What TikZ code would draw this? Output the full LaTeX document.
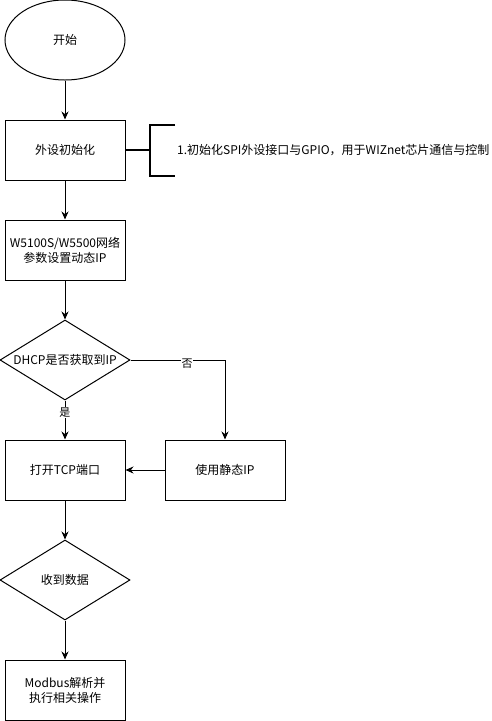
\documentclass[tikz,border=0pt]{standalone}
\usepackage{fontspec}
\setmainfont{Noto Sans CJK SC}
\usepackage{tikz}
\usetikzlibrary{shapes,arrows.meta,positioning}

\begin{document}
\begin{tikzpicture}[
  x=1pt, y=-1pt,
  every node/.style={font=\fontsize{12pt}{15pt}\selectfont},
  startnode/.style={ellipse, draw, line width=1pt, minimum width=120pt, minimum height=80pt, inner sep=0pt},
  procbox/.style={rectangle, draw, line width=1pt, minimum width=120pt, minimum height=60pt, align=center, inner sep=0pt},
  decision/.style={diamond, draw, line width=1pt, minimum width=130pt, minimum height=80pt, aspect=1.625, inner sep=0pt},
  edgelabel/.style={fill=white, inner sep=0.5pt, font=\fontsize{11pt}{13pt}\selectfont},
  bracket/.style={line width=2pt},
  arrow/.style={-{Stealth[length=8pt,width=7pt]}, line width=1pt}
]
\useasboundingbox (0,0) rectangle (492,721);

% Main column
\node[startnode] (start) at (65,40) {开始};
\node[procbox] (init) at (65,150) {外设初始化};
\node[procbox] (netcfg) at (65,250) {W5100S/W5500网络\\参数设置动态IP};
\node[decision] (dhcp) at (65,360) {DHCP是否获取到IP};
\node[procbox] (tcp) at (65,470) {打开TCP端口};
\node[decision] (recv) at (65,580) {收到数据};
\node[procbox] (modbus) at (65,690) {Modbus解析并\\执行相关操作};

% Side branch
\node[procbox] (static) at (225,470) {使用静态IP};

% Annotation bracket
\coordinate (brmid) at (150,150);
\coordinate (brtop) at (175,125);
\coordinate (brbot) at (175,176);
\node[anchor=west, inner sep=0pt] (note) at (177,150) {1.初始化SPI外设接口与GPIO，用于WIZnet芯片通信与控制};
\draw[bracket] (init.east) -- (brmid);
\draw[bracket] (brtop) -| (brmid) |- (brbot);

% Arrows
\draw[arrow] (start) -- (init);
\draw[arrow] (init) -- (netcfg);
\draw[arrow] (netcfg) -- (dhcp);
\draw[arrow] (dhcp) -- node[edgelabel, pos=0.3] {是} (tcp);
\draw[arrow] (dhcp.east) -| node[edgelabel, pos=0.3, yshift=-4pt] {否} (static);
\draw[arrow] (static) -- (tcp);
\draw[arrow] (tcp) -- (recv);
\draw[arrow] (recv) -- (modbus);

\end{tikzpicture}
\end{document}
